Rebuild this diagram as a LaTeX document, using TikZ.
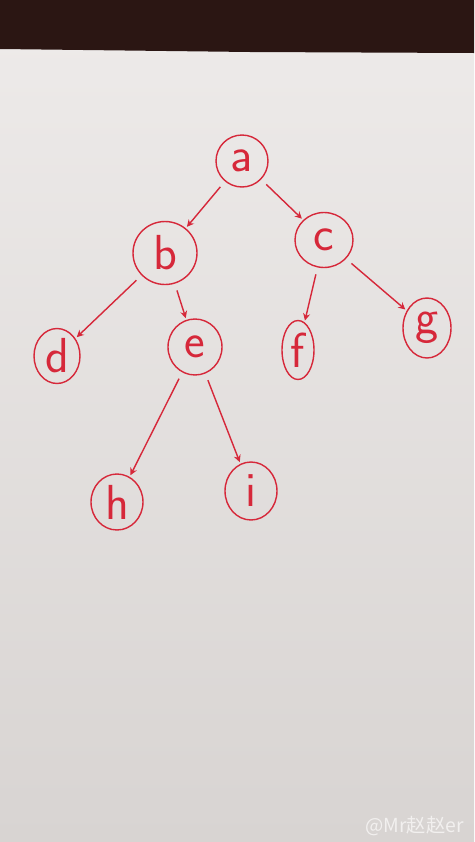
\documentclass[tikz,border=0pt]{standalone}
\usepackage{fontspec}
\newfontfamily\cjk{Noto Sans CJK SC}
\usepackage{tikz}
\usetikzlibrary{shapes,shapes.geometric,arrows,arrows.meta}
\definecolor{pen}{HTML}{D6283A}
\definecolor{desk}{HTML}{2B1613}
\definecolor{paperhi}{HTML}{EEEBEA}
\definecolor{paperlo}{HTML}{D8D4D2}
\definecolor{mark}{HTML}{F2F0EF}

\begin{document}
\begin{tikzpicture}[x=0.02cm,y=-0.02cm]
		% paper and desk
		\useasboundingbox (0,0) rectangle (474,842);
		\shade[top color=paperhi,bottom color=paperlo] (0,0) rectangle (474,842);
		\fill[desk] (0,0) -- (474,0) -- (474,53) -- (250,52) -- (0,49) -- cycle;
		\begin{scope}
            [
                every node/.style={ellipse, draw=pen, thick, text=pen, inner sep=0pt,
                    font=\sffamily\fontsize{28}{28}\selectfont}
            ]
			\node(a)[minimum width=1.04cm, minimum height=1.04cm] at (242,161) {a};
			\node(b)[minimum width=1.28cm, minimum height=1.26cm] at (165,253) {b};
			\node(c)[minimum width=1.16cm, minimum height=1.10cm] at (324,240) {c};
			\node(d)[minimum width=0.92cm, minimum height=1.10cm] at (57,356) {d};
			\node(e)[minimum width=1.08cm, minimum height=1.12cm] at (195,347) {e};
			\node(f)[minimum width=0.64cm, minimum height=1.18cm] at (298,350) {f};
			\node(g)[minimum width=0.96cm, minimum height=1.20cm] at (427,328) {g};
			\node(h)[minimum width=1.04cm, minimum height=1.12cm] at (117,502) {h};
			\node(i)[minimum width=1.04cm, minimum height=1.16cm] at (251,491) {i};
		\end{scope}
		\begin{scope}
            [>={Stealth[length=4pt,width=4pt]},
                every edge/.style={draw=pen, thick, shorten <=4pt, shorten >=1pt},
            ]
            \path
            (a) edge[->] (b)
			(a) edge[->] (c)
			(b) edge[->] (d)
			(b) edge[->] (e)
			(c) edge[->] (f)
			(c) edge[->] (g)
			(e) edge[->] (h)
			(e) edge[->] (i);
		\end{scope}
		% watermark
		\node(wm)[anchor=east, text=mark, font=\cjk\fontsize{11}{11}\selectfont] at (470,826) {@Mr赵赵er};
    \end{tikzpicture}
\end{document}
